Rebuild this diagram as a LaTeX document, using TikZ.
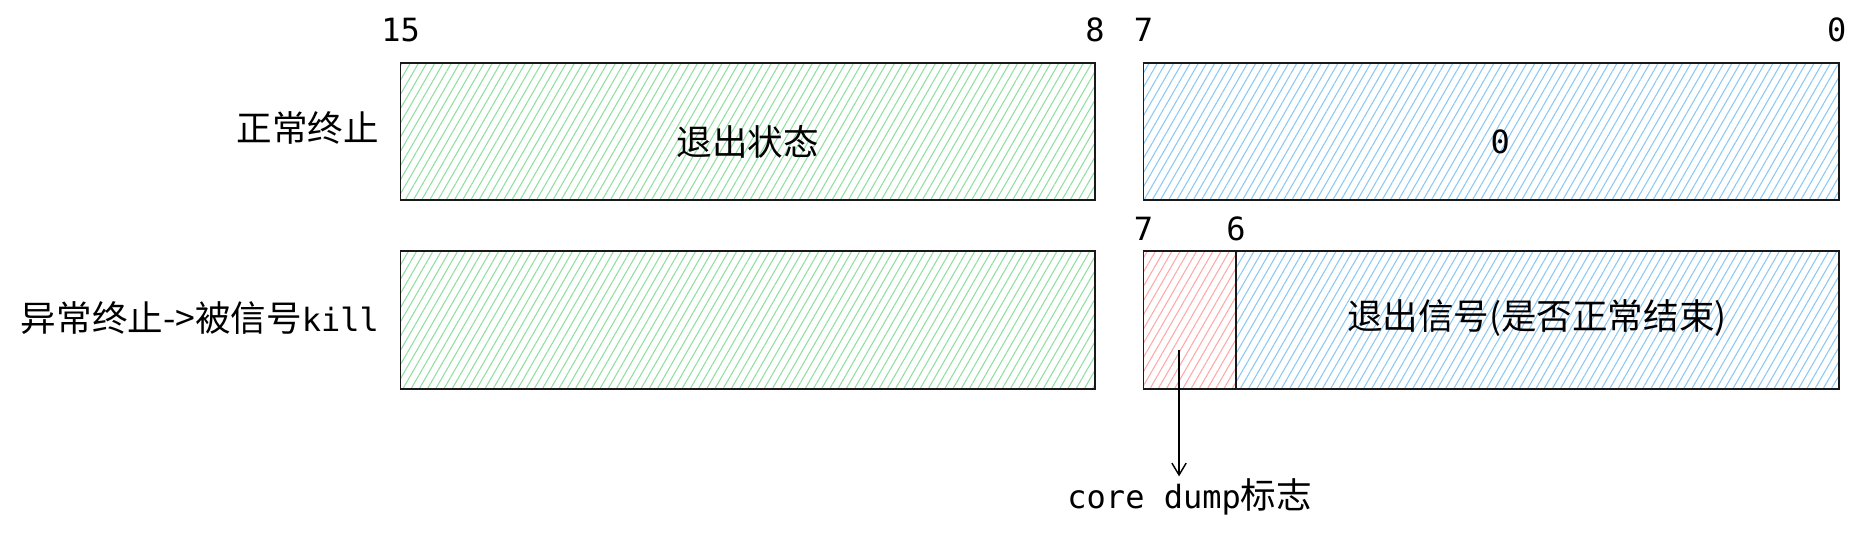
\documentclass[tikz,border=0pt]{standalone}
\usepackage{fontspec}
\setmainfont{DejaVu Sans Mono}
\newfontfamily\cjk{Noto Sans CJK SC}
\usetikzlibrary{patterns.meta,arrows.meta}
\definecolor{gfill}{HTML}{8FE0A0}
\definecolor{bfill}{HTML}{8CC8F5}
\definecolor{rfill}{HTML}{FFA8A8}
\tikzset{
  cell/.style={draw=black!90,line width=1.5pt},
  gcell/.style={cell,pattern={Lines[angle=60,distance=6pt,line width=0.9pt]},pattern color=gfill},
  bcell/.style={cell,pattern={Lines[angle=60,distance=6pt,line width=0.9pt]},pattern color=bfill},
  rcell/.style={cell,pattern={Lines[angle=60,distance=6pt,line width=0.9pt]},pattern color=rfill},
  lbl/.style={font=\fontsize{27}{31}\selectfont,inner sep=0pt},
  clbl/.style={font=\fontsize{30}{34}\selectfont,inner sep=0pt},
}
\begin{document}
\begin{tikzpicture}[x=1pt,y=-1pt]
\useasboundingbox (0,0) rectangle (1568,449);
\fill[white] (0,0) rectangle (1568,449);
\draw[gcell] (338,53) rectangle (924,169);
\draw[bcell] (965,53) rectangle (1552,169);
\draw[gcell] (338,212) rectangle (924,328);
\draw[rcell] (965,212) rectangle (1043,328);
\draw[bcell] (1043,212) rectangle (1552,328);
\node[lbl] (n15) at (338,25) {15};
\node[lbl] (n8) at (924,25) {8};
\node[lbl] (n7a) at (965,25) {7};
\node[lbl] (n0) at (1550,25) {0};
\node[lbl] (n7b) at (965,193) {7};
\node[lbl] (n6) at (1043,193) {6};
\node[clbl,anchor=east] (l1) at (320,108) {\cjk 正常终止};
\node[clbl,anchor=east] (l2) at (320,268) {\cjk 异常终止->被信号\normalfont\fontsize{27}{31}\selectfont kill};
\node[clbl] (t1) at (631,120) {\cjk 退出状态};
\node[lbl] (t2) at (1266,120) {0};
\node[clbl] (t3) at (1297,268) {\cjk 退出信号(是否正常结束)};
\coordinate (a0) at (995,295);
\node[lbl] (cd) at (1004,419) {core dump{\cjk\fontsize{30}{34}\selectfont 标志}};
\draw[line width=1.2pt,-{Straight Barb[length=10pt,width=12pt]}] (a0) -- (995,402);
\end{tikzpicture}
\end{document}
